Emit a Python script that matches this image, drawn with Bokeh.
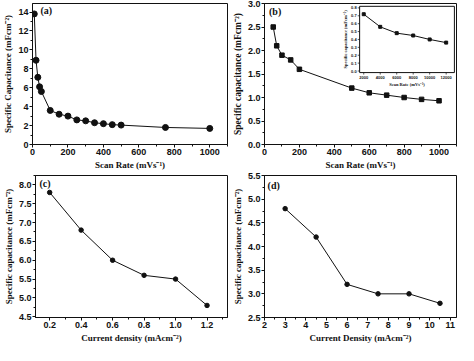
import math
from bokeh.plotting import figure
from bokeh.layouts import column, row
from bokeh.models import Range1d, SingleIntervalTicker, NumeralTickFormatter, Label
from bokeh.embed import file_html
from bokeh.resources import INLINE
from bokeh.core.properties import value

# ---- data ----
a_rate = [10, 20, 30, 40, 50, 100, 150, 200, 250, 300, 350, 400, 450, 500, 750, 1000]
a_cap = [13.8, 8.9, 7.1, 6.1, 5.6, 3.6, 3.2, 3.0, 2.6, 2.5, 2.3, 2.2, 2.1, 2.05, 1.8, 1.7]

b_rate = [50, 70, 100, 150, 200, 500, 600, 700, 800, 900, 1000]
b_cap = [2.5, 2.1, 1.9, 1.8, 1.6, 1.2, 1.1, 1.05, 1.0, 0.96, 0.93]

inset_rate = [2000, 4000, 6000, 8000, 10000, 12000]
inset_cap = [0.72, 0.56, 0.48, 0.45, 0.40, 0.36]
inset_xticks = [2000, 4000, 6000, 8000, 10000, 12000]
inset_yticks = [0.0, 0.1, 0.2, 0.3, 0.4, 0.5, 0.6, 0.7, 0.8]

c_density = [0.2, 0.4, 0.6, 0.8, 1.0, 1.2]
c_cap = [7.8, 6.8, 6.0, 5.6, 5.5, 4.8]

d_density = [3, 4.5, 6, 7.5, 9, 10.5]
d_cap = [4.8, 4.2, 3.2, 3.0, 3.0, 2.8]

SERIF = "Liberation Serif"
SANS = "Liberation Sans"
INK = "#111111"


def make_fig(w, h, xr, yr, xlab, ylab, xint, yint, xfmt=None, yfmt=None, top=3, ylab_size="9px"):
    p = figure(width=w, height=h, x_range=Range1d(*xr), y_range=Range1d(*yr),
               output_backend="svg", toolbar_location=None, tools="")
    p.min_border_left = 0
    p.min_border_right = 2
    p.min_border_top = top
    p.min_border_bottom = 0
    p.grid.visible = False
    p.outline_line_color = INK
    p.outline_line_width = 1
    p.background_fill_color = "white"
    p.border_fill_color = "white"
    p.xaxis.ticker = SingleIntervalTicker(interval=xint, num_minor_ticks=2)
    p.yaxis.ticker = SingleIntervalTicker(interval=yint, num_minor_ticks=2)
    if xfmt:
        p.xaxis.formatter = NumeralTickFormatter(format=xfmt)
    if yfmt:
        p.yaxis.formatter = NumeralTickFormatter(format=yfmt)
    p.xaxis.axis_label = xlab
    p.yaxis.axis_label = ylab
    for ax in (p.xaxis[0], p.yaxis[0]):
        ax.axis_line_color = INK
        ax.major_tick_line_color = INK
        ax.minor_tick_line_color = INK
        ax.major_tick_in = 0
        ax.major_tick_out = 3
        ax.minor_tick_in = 0
        ax.minor_tick_out = 2
        ax.major_label_text_font = SANS
        ax.major_label_text_font_style = "bold"
        ax.major_label_text_font_size = "9px"
        ax.major_label_text_color = INK
        ax.major_label_standoff = 1
        ax.axis_label_text_font = SERIF
        ax.axis_label_text_font_style = "bold"
        ax.axis_label_text_font_size = "9px"
        ax.axis_label_text_color = INK
        ax.axis_label_standoff = 2
    p.yaxis[0].axis_label_text_font_size = ylab_size
    return p


def tag(p, x, y, t):
    p.add_layout(Label(x=x, y=y, text=t, text_font=SERIF, text_font_style="bold",
                       text_font_size="10px", text_baseline="middle", text_color=INK))


# ---- (a) ----
pa = make_fig(229, 172, (0, 1100), (0, 14.9), "Scan Rate (mVs⁻¹)",
              "Specific Capacitance (mFcm⁻²)", 200, 2)
pa.line(a_rate, a_cap, line_color=INK, line_width=1)
pa.scatter(a_rate, a_cap, marker="circle", size=6, color=INK)
tag(pa, 45, 14.2, "(a)")

# ---- (b) ----
pb = make_fig(229, 172, (0, 1100), (0, 3.0), "Scan Rate (mVs⁻¹)",
              "Specific capacitance (mFcm⁻²)", 200, 0.5, yfmt="0.0", ylab_size="9.5px")
pb.line(b_rate, b_cap, line_color=INK, line_width=1)
pb.scatter(b_rate, b_cap, marker="square", size=4.5, color=INK)
tag(pb, 26, 2.82, "(b)")

# inset of (b)
ix0, ix1, iy0, iy1 = 1500, 13000, -0.02, 0.82
pb.quad(left=[545], right=[1088], bottom=[1.53], top=[2.94],
        fill_color="white", line_color=INK, line_width=1)
sub = pb.subplot(x_source=Range1d(ix0, ix1), y_source=Range1d(iy0, iy1),
                 x_target=Range1d(545, 1088), y_target=Range1d(1.53, 2.94))
sub.line(inset_rate, inset_cap, line_color=INK, line_width=1)
sub.scatter(inset_rate, inset_cap, marker="square", size=3, color=INK)
sub.segment(x0=[ix0] * len(inset_yticks), y0=inset_yticks,
            x1=[ix0 - 230] * len(inset_yticks), y1=inset_yticks, line_color=INK, line_width=0.7)
sub.segment(x0=inset_xticks, y0=[iy0] * len(inset_xticks),
            x1=inset_xticks, y1=[iy0 - 0.025] * len(inset_xticks), line_color=INK, line_width=0.7)
sub.text(x=[ix0] * len(inset_yticks), y=inset_yticks, text=[f"{v:.1f}" for v in inset_yticks],
         x_offset=-3, text_align="right", text_baseline="middle",
         text_font=value(SANS), text_font_style="bold", text_font_size="4px", text_color=INK)
sub.text(x=inset_xticks, y=[iy0] * len(inset_xticks), text=[str(v) for v in inset_xticks],
         y_offset=3, text_align="center", text_baseline="top",
         text_font=value(SANS), text_font_style="bold", text_font_size="4px", text_color=INK)
sub.text(x=[(ix0 + ix1) / 2], y=[iy0], text=["Scan Rate (mVs⁻¹)"], y_offset=9,
         text_align="center", text_baseline="top",
         text_font=value(SERIF), text_font_style="bold", text_font_size="4.5px", text_color=INK)
sub.text(x=[ix0], y=[(iy0 + iy1) / 2], text=["Specific capacitance (mFcm⁻²)"], x_offset=-12,
         angle=math.pi / 2, text_align="center", text_baseline="bottom",
         text_font=value(SERIF), text_font_style="bold", text_font_size="4.5px", text_color=INK)

# ---- (c) ----
pc = make_fig(229, 173, (0.11, 1.33), (4.48, 8.25), "Current density (mAcm⁻²)",
              "Specific capacitance (mFcm⁻²)", 0.2, 0.5, xfmt="0.0", yfmt="0.0")
pc.line(c_density, c_cap, line_color=INK, line_width=1)
pc.scatter(c_density, c_cap, marker="circle", size=4.5, color=INK)
tag(pc, 0.135, 8.03, "(c)")

# ---- (d) ----
pd_ = make_fig(229, 173, (2, 11.3), (2.5, 5.5), "Current Density (mAcm⁻²)",
               "Specific capacitance (mFcm⁻²)", 1, 0.5, yfmt="0.0")
pd_.line(d_density, d_cap, line_color=INK, line_width=1)
pd_.scatter(d_density, d_cap, marker="circle", size=4.5, color=INK)
tag(pd_, 2.15, 5.29, "(d)")

layout = column(row(pa, pb), row(pc, pd_))
open("out.html", "w").write(file_html(layout, INLINE))
